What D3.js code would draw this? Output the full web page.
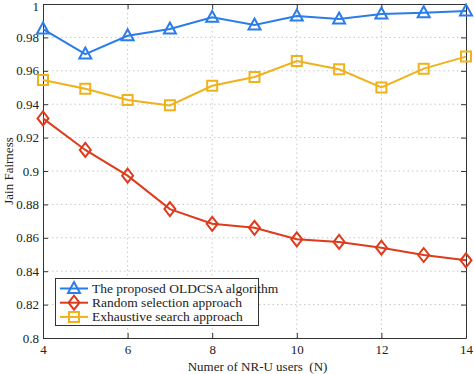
<!DOCTYPE html>
<html><head><meta charset="utf-8">
<script src="https://cdn.jsdelivr.net/npm/d3@7"></script>
<style>body{margin:0;background:#fff}svg{display:block}</style>
</head><body>
<svg id="c" width="474" height="374"></svg>
<script>
const users = [4,5,6,7,8,9,10,11,12,13,14];
const proposed = [0.985,0.970,0.981,0.985,0.992,0.9874,0.9928,0.991,0.994,0.9948,0.9958];
const randomSel = [0.9315,0.9126,0.8972,0.8772,0.8684,0.866,0.8591,0.8575,0.8541,0.8497,0.8465];
const exhaustive = [0.9545,0.9493,0.9425,0.9393,0.951,0.9563,0.9659,0.9609,0.950,0.9613,0.9685];
const xTicks = [4,6,8,10,12,14];
const yTicks = [0.8,0.82,0.84,0.86,0.88,0.9,0.92,0.94,0.96,0.98,1];
const seriesNames = ["The proposed OLDCSA algorithm","Random selection approach","Exhaustive search approach"];

const svg = d3.select("#c");
const L=43,R=466,T=4,B=338;
const x = d3.scaleLinear().domain([4,14]).range([L,R]);
const y = d3.scaleLinear().domain([0.8,1]).range([B,T]);
const font = "Liberation Serif, Times New Roman, serif";

// grid
const g = svg.append("g");
g.selectAll(".gx").data(xTicks.slice(1,-1)).enter().append("line")
 .attr("x1",d=>x(d)).attr("x2",d=>x(d)).attr("y1",T).attr("y2",B)
 .attr("stroke","#c8c8c8").attr("stroke-width",1).attr("stroke-dasharray","1.5,3");
g.selectAll(".gy").data(yTicks.slice(1,-1)).enter().append("line")
 .attr("y1",d=>y(d)).attr("y2",d=>y(d)).attr("x1",L).attr("x2",R)
 .attr("stroke","#c8c8c8").attr("stroke-width",1).attr("stroke-dasharray","1.5,3");

// axes
const fmtY = d=> d===1?"1":(d===0.8?"0.8":(d===0.9?"0.9":d3.format(".2f")(d)));
const ax = (sel)=>{sel.selectAll("path,line").attr("stroke","#333");sel.selectAll("text").attr("font-family",font).attr("font-size",13).attr("fill","#222");};
svg.append("g").attr("transform",`translate(0,${B})`).call(d3.axisBottom(x).tickValues(xTicks).tickSize(-5).tickSizeOuter(0).tickPadding(7)).call(ax);
svg.append("g").attr("transform",`translate(0,${T})`).call(d3.axisTop(x).tickValues(xTicks).tickSize(-5).tickSizeOuter(0).tickFormat("")).call(ax);
const yAx = svg.append("g").attr("transform",`translate(${L},0)`).call(d3.axisLeft(y).tickValues(yTicks).tickFormat(fmtY).tickSize(-5).tickSizeOuter(0).tickPadding(4)).call(ax);
yAx.selectAll(".tick").filter(d=>d===1).select("text").attr("dy","0.5em");
svg.append("g").attr("transform",`translate(${R},0)`).call(d3.axisRight(y).tickValues(yTicks).tickSize(-5).tickSizeOuter(0).tickFormat("")).call(ax);

// labels
svg.append("text").attr("x",(L+R)/2+3).attr("y",371).attr("text-anchor","middle")
 .attr("font-family",font).attr("font-size",13).attr("fill","#222").attr("xml:space","preserve").text("Numer of NR-U users  (N)");
svg.append("text").attr("transform",`translate(13,${(T+B)/2}) rotate(-90)`).attr("text-anchor","middle")
 .attr("font-family",font).attr("font-size",13).attr("fill","#222").text("Jain Fairness");

const colors = ["#2a7de8","#dd3b1c","#f0b21c"];
const data = [proposed, randomSel, exhaustive];
const marker = (sel,i)=>{
  if(i===0) sel.attr("d","M0,-6.5L6,4.5L-6,4.5Z");
  else if(i===1) sel.attr("d","M0,-7L5.5,0L0,7L-5.5,0Z");
  else sel.attr("d","M-5,-5L5,-5L5,5L-5,5Z");
};
const line = d3.line().x((d,j)=>x(users[j])).y(d=>y(d));
data.forEach((vals,i)=>{
  svg.append("path").datum(vals).attr("d",line).attr("fill","none").attr("stroke",colors[i]).attr("stroke-width",2);
  svg.selectAll(".m"+i).data(vals).enter().append("path")
    .attr("transform",(d,j)=>`translate(${x(users[j])},${y(d)})`)
    .call(marker,i).attr("fill","none").attr("stroke",colors[i]).attr("stroke-width",2);
});

// legend
const lg = svg.append("g");
lg.append("rect").attr("x",55.5).attr("y",278.5).attr("width",203).attr("height",47).attr("fill","#fff").attr("stroke","#333").attr("stroke-width",1);
seriesNames.forEach((n,i)=>{
  const yy = 288.5+i*14.2;
  lg.append("line").attr("x1",60).attr("x2",88).attr("y1",yy).attr("y2",yy).attr("stroke",colors[i]).attr("stroke-width",2);
  lg.append("path").attr("transform",`translate(74,${yy})`).call(marker,i).attr("fill","none").attr("stroke",colors[i]).attr("stroke-width",2);
  lg.append("text").attr("x",92).attr("y",yy+4.5).attr("font-family",font).attr("font-size",13.5).attr("fill","#222").text(n);
});
</script>
</body></html>
